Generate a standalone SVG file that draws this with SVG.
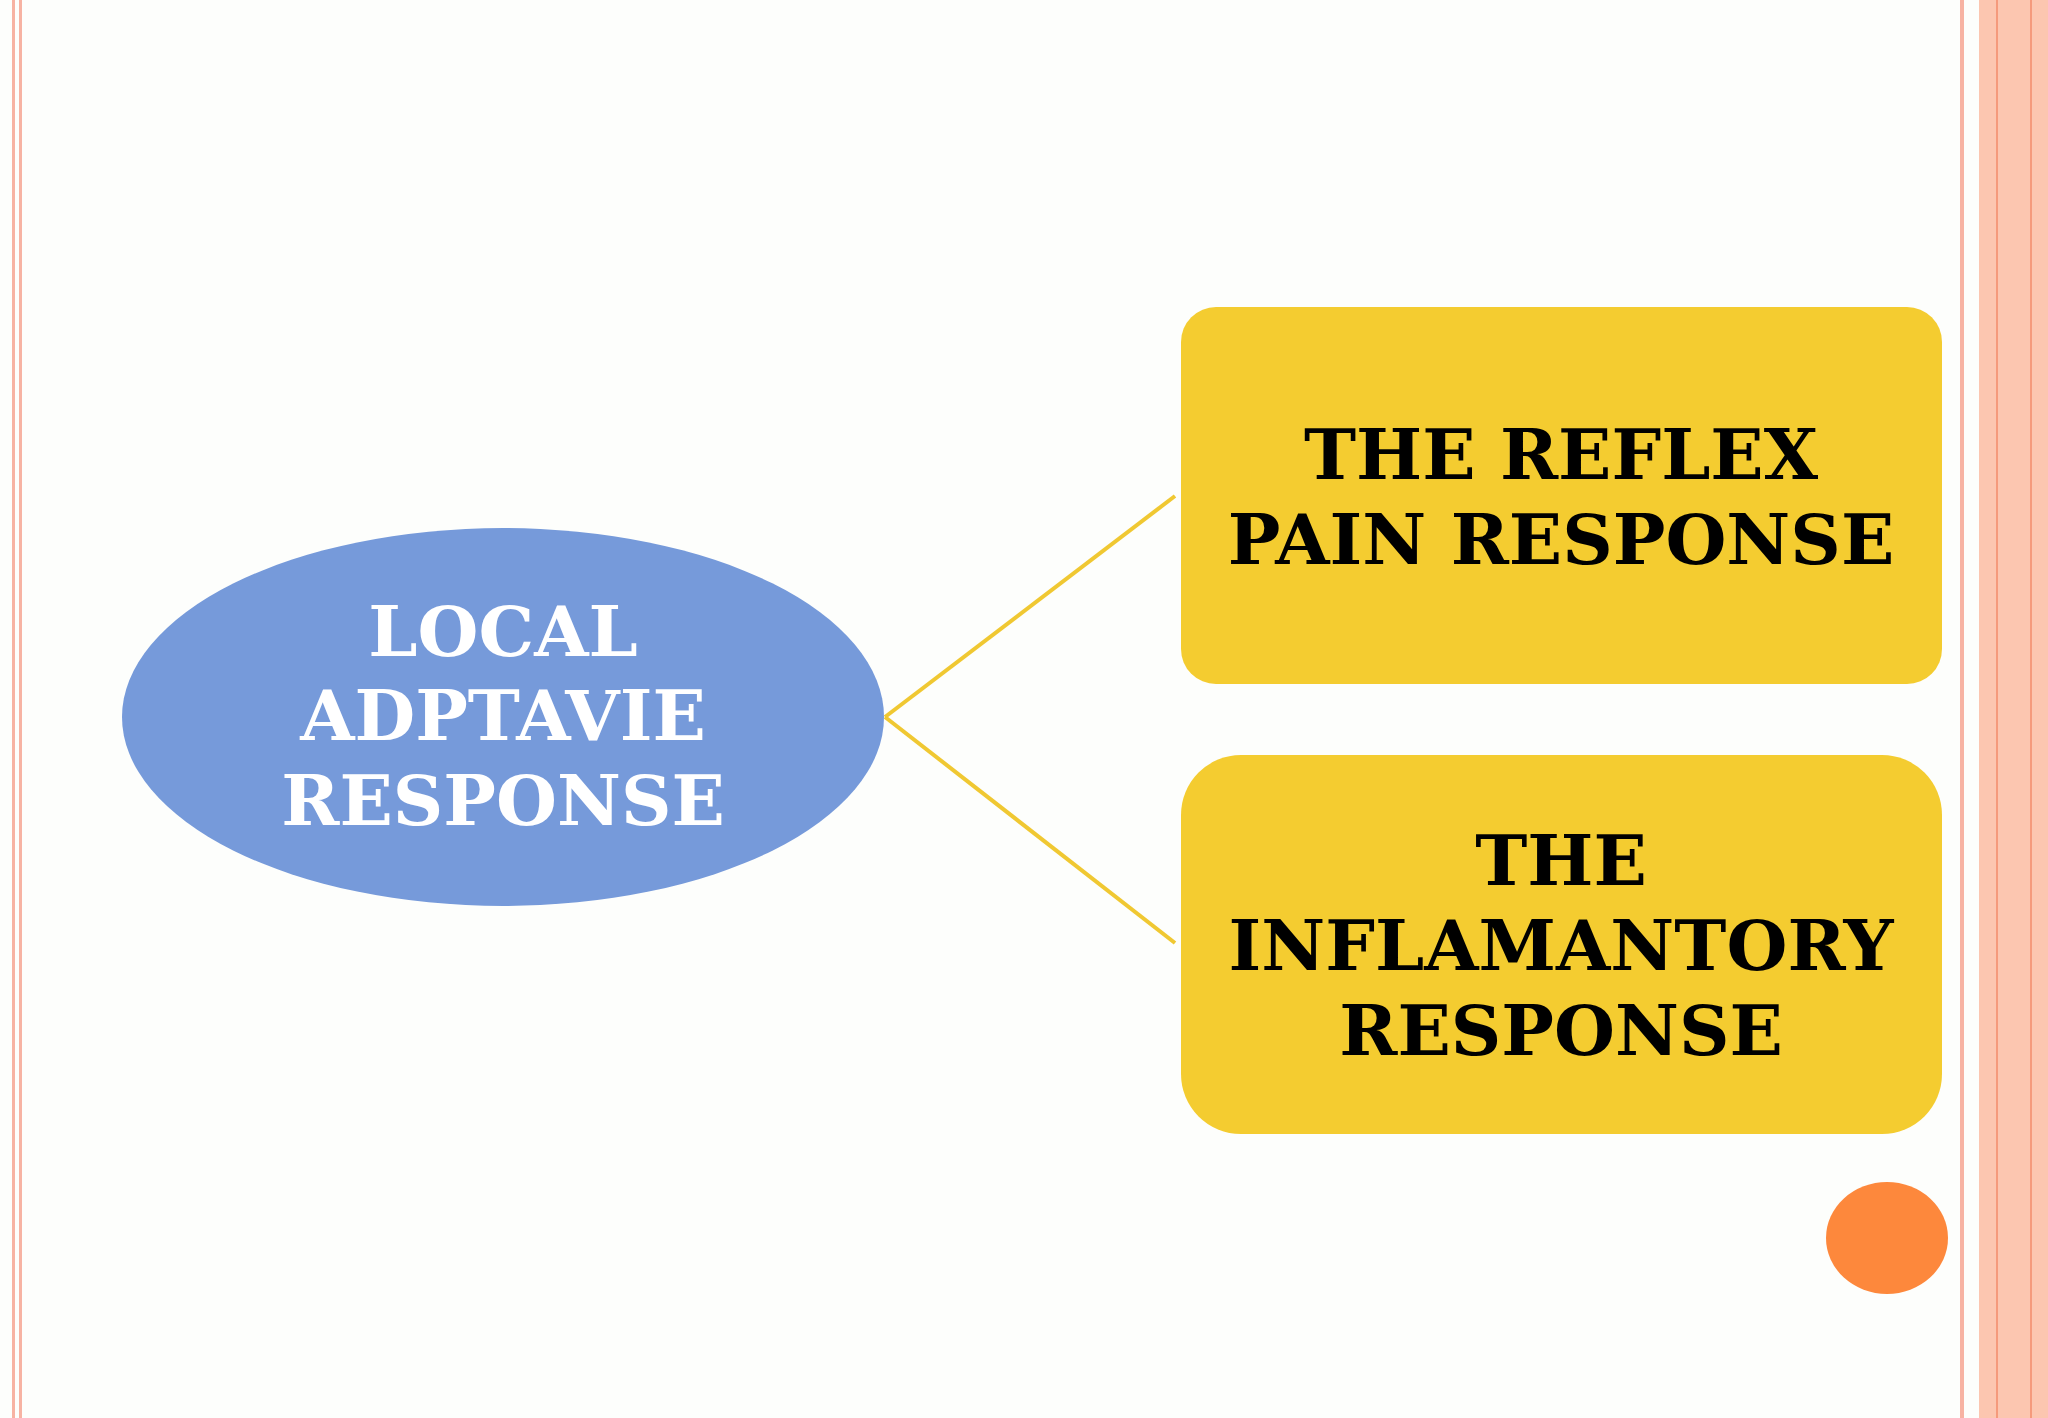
<svg xmlns="http://www.w3.org/2000/svg" width="2048" height="1418" viewBox="0 0 2048 1418">
<style>
.t{font-family:"DejaVu Serif","Liberation Serif",serif;font-weight:bold;font-size:70px;text-anchor:middle}
.w{fill:#fff}.k{fill:#000}
.box{fill:#f4cc30}
</style>
<rect width="2048" height="1418" fill="#fdfefc"/>
<rect x="12" y="0" width="3" height="1418" fill="#f7b3a3"/>
<rect x="19" y="0" width="3" height="1418" fill="#f7b3a3"/>
<rect x="1960" y="0" width="4" height="1418" fill="#f7b3a3"/>
<rect x="1979" y="0" width="69" height="1418" fill="#fcc6b0"/>
<rect x="1996" y="0" width="2" height="1418" fill="#f59a7c"/>
<rect x="2030" y="0" width="2" height="1418" fill="#f59a7c"/>
<g id="connectors" stroke="#f0c832" stroke-width="4" fill="none">
<path d="M885 717 L1175 496"/>
<path d="M885 717 L1175 943"/>
</g>
<g id="center">
<ellipse cx="503" cy="717" rx="381" ry="189" fill="#769ada"/>
<text class="t w" x="503" y="656">LOCAL</text>
<text class="t w" x="503" y="740">ADPTAVIE</text>
<text class="t w" x="503" y="825">RESPONSE</text>
</g>
<g id="reflex">
<rect class="box" x="1181" y="307" width="761" height="377" rx="35"/>
<text class="t k" x="1561" y="479">THE REFLEX</text>
<text class="t k" x="1561" y="564">PAIN RESPONSE</text>
</g>
<g id="inflam">
<rect class="box" x="1181" y="755" width="761" height="379" rx="60"/>
<text class="t k" x="1561" y="885">THE</text>
<text class="t k" x="1561" y="970">INFLAMANTORY</text>
<text class="t k" x="1561" y="1055">RESPONSE</text>
</g>
<ellipse cx="1887" cy="1238" rx="61" ry="56" fill="#fd883c"/>
</svg>
